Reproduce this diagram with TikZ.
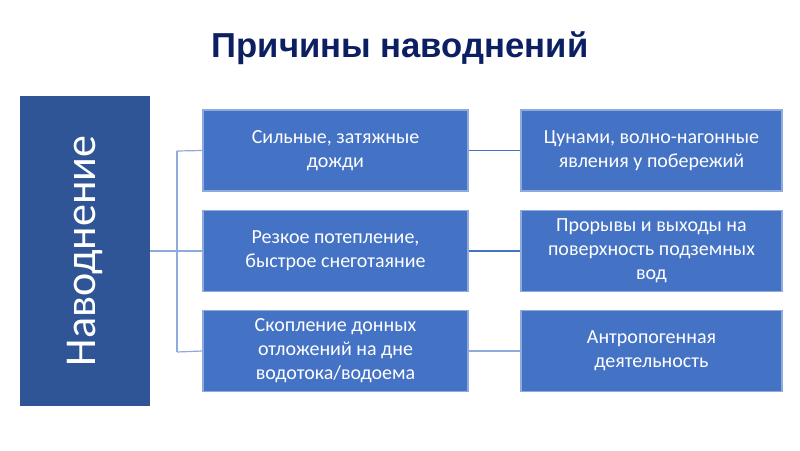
\documentclass[tikz,border=0pt]{standalone}
\usepackage{fontspec}
\setmainfont{Carlito}
\newfontfamily\titlefont{Liberation Sans}
\definecolor{boxblue}{HTML}{4472C4}
\definecolor{leftblue}{HTML}{2F5597}
\definecolor{edgeblue}{HTML}{8FAADC}
\definecolor{navy}{HTML}{0D1F63}
\begin{document}
\begin{tikzpicture}[x=0.75pt,y=-0.75pt,
  cbox/.style={draw=edgeblue,line width=0.8pt,fill=boxblue,text=white,align=center,font=\fontsize{15}{18}\selectfont,inner sep=0pt},
  link/.style={draw=edgeblue,line width=0.9pt},
  dlink/.style={draw=boxblue,line width=0.9pt}]
\useasboundingbox (0,0) rectangle (800,450);
\node[font=\titlefont\bfseries\fontsize{26}{30}\selectfont,text=navy] (title) at (400,48) {Причины наводнений};
\node[fill=leftblue,minimum width=130*0.75pt,minimum height=310*0.75pt,inner sep=0pt] (L) at (85,251) {};
\node[rotate=90,text=white,font=\fontsize{33}{36}\selectfont] (Lt) at (85,251) {Наводнение};
\node[cbox,minimum width=265*0.75pt,minimum height=81*0.75pt] (m1) at (335.5,150.5) {Сильные, затяжные\\дожди};
\node[cbox,minimum width=265*0.75pt,minimum height=81*0.75pt] (m2) at (335.5,251) {Резкое потепление,\\быстрое снеготаяние};
\node[cbox,minimum width=265*0.75pt,minimum height=81*0.75pt] (m3) at (335.5,351) {Скопление донных\\отложений на дне\\водотока/водоема};
\node[cbox,minimum width=261*0.75pt,minimum height=81*0.75pt] (r1) at (651.5,150.5) {Цунами, волно-нагонные\\явления у побережий};
\node[cbox,minimum width=261*0.75pt,minimum height=81*0.75pt] (r2) at (651.5,251) {Прорывы и выходы на\\поверхность подземных\\вод};
\node[cbox,minimum width=261*0.75pt,minimum height=81*0.75pt] (r3) at (651.5,351) {Антропогенная\\деятельность};
\coordinate (t1) at (177,151);
\coordinate (t3) at (177,352);
\draw[link] (L.east) -- (m2.west);
\draw[link] (t1) -- (t3);
\draw[link] (t1) -- (m1.west);
\draw[link] (t3) -- (m3.west);
\draw[dlink] (m1.east) -- (r1.west);
\draw[dlink] (m2.east) -- (r2.west);
\draw[link] (m3.east) -- (r3.west);
\end{tikzpicture}
\end{document}
